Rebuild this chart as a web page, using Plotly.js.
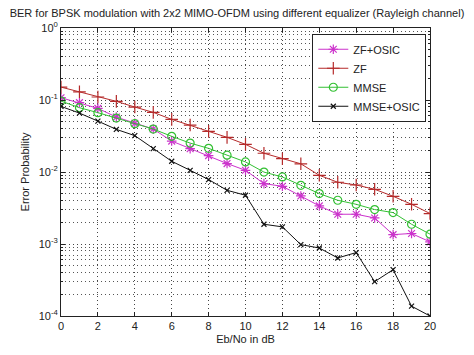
<!DOCTYPE html>
<html><head><meta charset="utf-8">
<script src="https://cdn.plot.ly/plotly-3.0.1.min.js"></script>
<style>html,body{margin:0;padding:0;background:#fff}#chart{width:474px;height:355px}</style>
</head><body><div id="chart"></div>
<script>
var ebno = [0,1,2,3,4,5,6,7,8,9,10,11,12,13,14,15,16,17,18,19,20];
var zfOsic = [0.1076,0.0918,0.0765,0.0579,0.0474,0.0395,0.0269,0.0211,0.0169,0.0131,0.01056,0.0069,0.00633,0.00465,0.00338,0.00259,0.00259,0.0023,0.00135,0.0014,0.00107];
var zf = [0.151,0.130,0.110,0.0957,0.0798,0.0673,0.0538,0.0449,0.0367,0.0303,0.0242,0.0182,0.0153,0.0130,0.0090,0.0072,0.0066,0.00575,0.0046,0.00356,0.00265];
var mmse = [0.0966,0.0782,0.0667,0.0561,0.0469,0.0395,0.0313,0.0252,0.0213,0.0171,0.0138,0.00997,0.00853,0.00654,0.00501,0.00405,0.00356,0.00301,0.00273,0.00188,0.00137];
var mmseOsic = [0.0815,0.0658,0.0509,0.0391,0.0320,0.0211,0.0141,0.01056,0.00785,0.00557,0.00475,0.00188,0.00173,0.00098,0.00088,0.00064,0.00076,0.0003,0.00044,0.000137,0.0001];
var yTickVals = [1e-4,1e-3,1e-2,1e-1,1];
var yTickText = ['10<sup>-4</sup>','10<sup>-3</sup>','10<sup>-2</sup>','10<sup>-1</sup>','10<sup>0</sup>'];
var xTickVals = [0,2,4,6,8,10,12,14,16,18,20];
var minorMultipliers = [2,3,4,5,6,7,8,9];

var minorVals = [];
yTickVals.slice(0,4).forEach(function(d){ minorMultipliers.forEach(function(m){ minorVals.push(d*m); }); });

var font = {family:'Liberation Sans, Arial, sans-serif', size:11, color:'#222'};
function tr(name, y, color, symbol, size){
  return {x:ebno, y:y, name:name, type:'scatter', mode:'lines+markers',
    line:{color:color, width:1},
    marker:{symbol:symbol, size:size, color:color, line:{color:color, width:1.2}}};
}
var data = [
  {x:[0], y:[1e-4], yaxis:'y2', mode:'markers', marker:{opacity:0}, showlegend:false, hoverinfo:'skip'},
  tr('ZF+OSIC', zfOsic, '#cc33cc', 'asterisk-open', 8),
  tr('ZF', zf, '#b52a2a', 'cross-thin-open', 9),
  tr('MMSE', mmse, '#33c033', 'circle-open', 8),
  tr('MMSE+OSIC', mmseOsic, '#111111', 'x-thin-open', 5)
];
var layout = {
  width:474, height:355,
  margin:{l:61, r:44, t:28, b:39},
  paper_bgcolor:'#fff', plot_bgcolor:'rgba(0,0,0,0)',
  font:font,
  showlegend:true,
  title:{text:'BER for BPSK modulation with 2x2 MIMO-OFDM using different equalizer (Rayleigh channel)',
    font:{family:'Liberation Sans, Arial, sans-serif', size:11, color:'#222'}, x:0.5, xanchor:'center', y:0.975, yanchor:'top'},
  xaxis:{range:[0,20], tickvals:xTickVals, ticks:'inside', ticklen:4, tickcolor:'#222',
    showline:true, linecolor:'#222', linewidth:1, mirror:'ticks',
    showgrid:true, gridcolor:'#444', griddash:'1px,3px', gridwidth:1, zeroline:false,
    title:{text:'Eb/No in dB', font:font, standoff:4}},
  yaxis:{type:'log', range:[-4,0], tickvals:yTickVals, ticktext:yTickText, ticks:'inside', ticklen:4, tickcolor:'#222',
    showline:true, linecolor:'#222', linewidth:1, mirror:'ticks',
    showgrid:true, gridcolor:'#444', griddash:'1px,3px', gridwidth:1, zeroline:false,
    title:{text:'Error Probability', font:font, standoff:6}},
  yaxis2:{type:'log', range:[-4,0], overlaying:'y', side:'left', tickvals:minorVals, showticklabels:false,
    ticks:'inside', ticklen:2, tickcolor:'#222', mirror:'ticks', showline:false,
    showgrid:true, gridcolor:'#555', griddash:'1px,3px', gridwidth:1, zeroline:false, layer:'below traces'},
  legend:{x:0.99, xanchor:'right', y:0.98, yanchor:'top', bgcolor:'#fff', bordercolor:'#222', borderwidth:1,
    font:{family:'Liberation Sans, Arial, sans-serif', size:11, color:'#222'}, tracegroupgap:0}
};
Plotly.newPlot('chart', data, layout, {staticPlot:true, displayModeBar:false});
</script></body></html>
